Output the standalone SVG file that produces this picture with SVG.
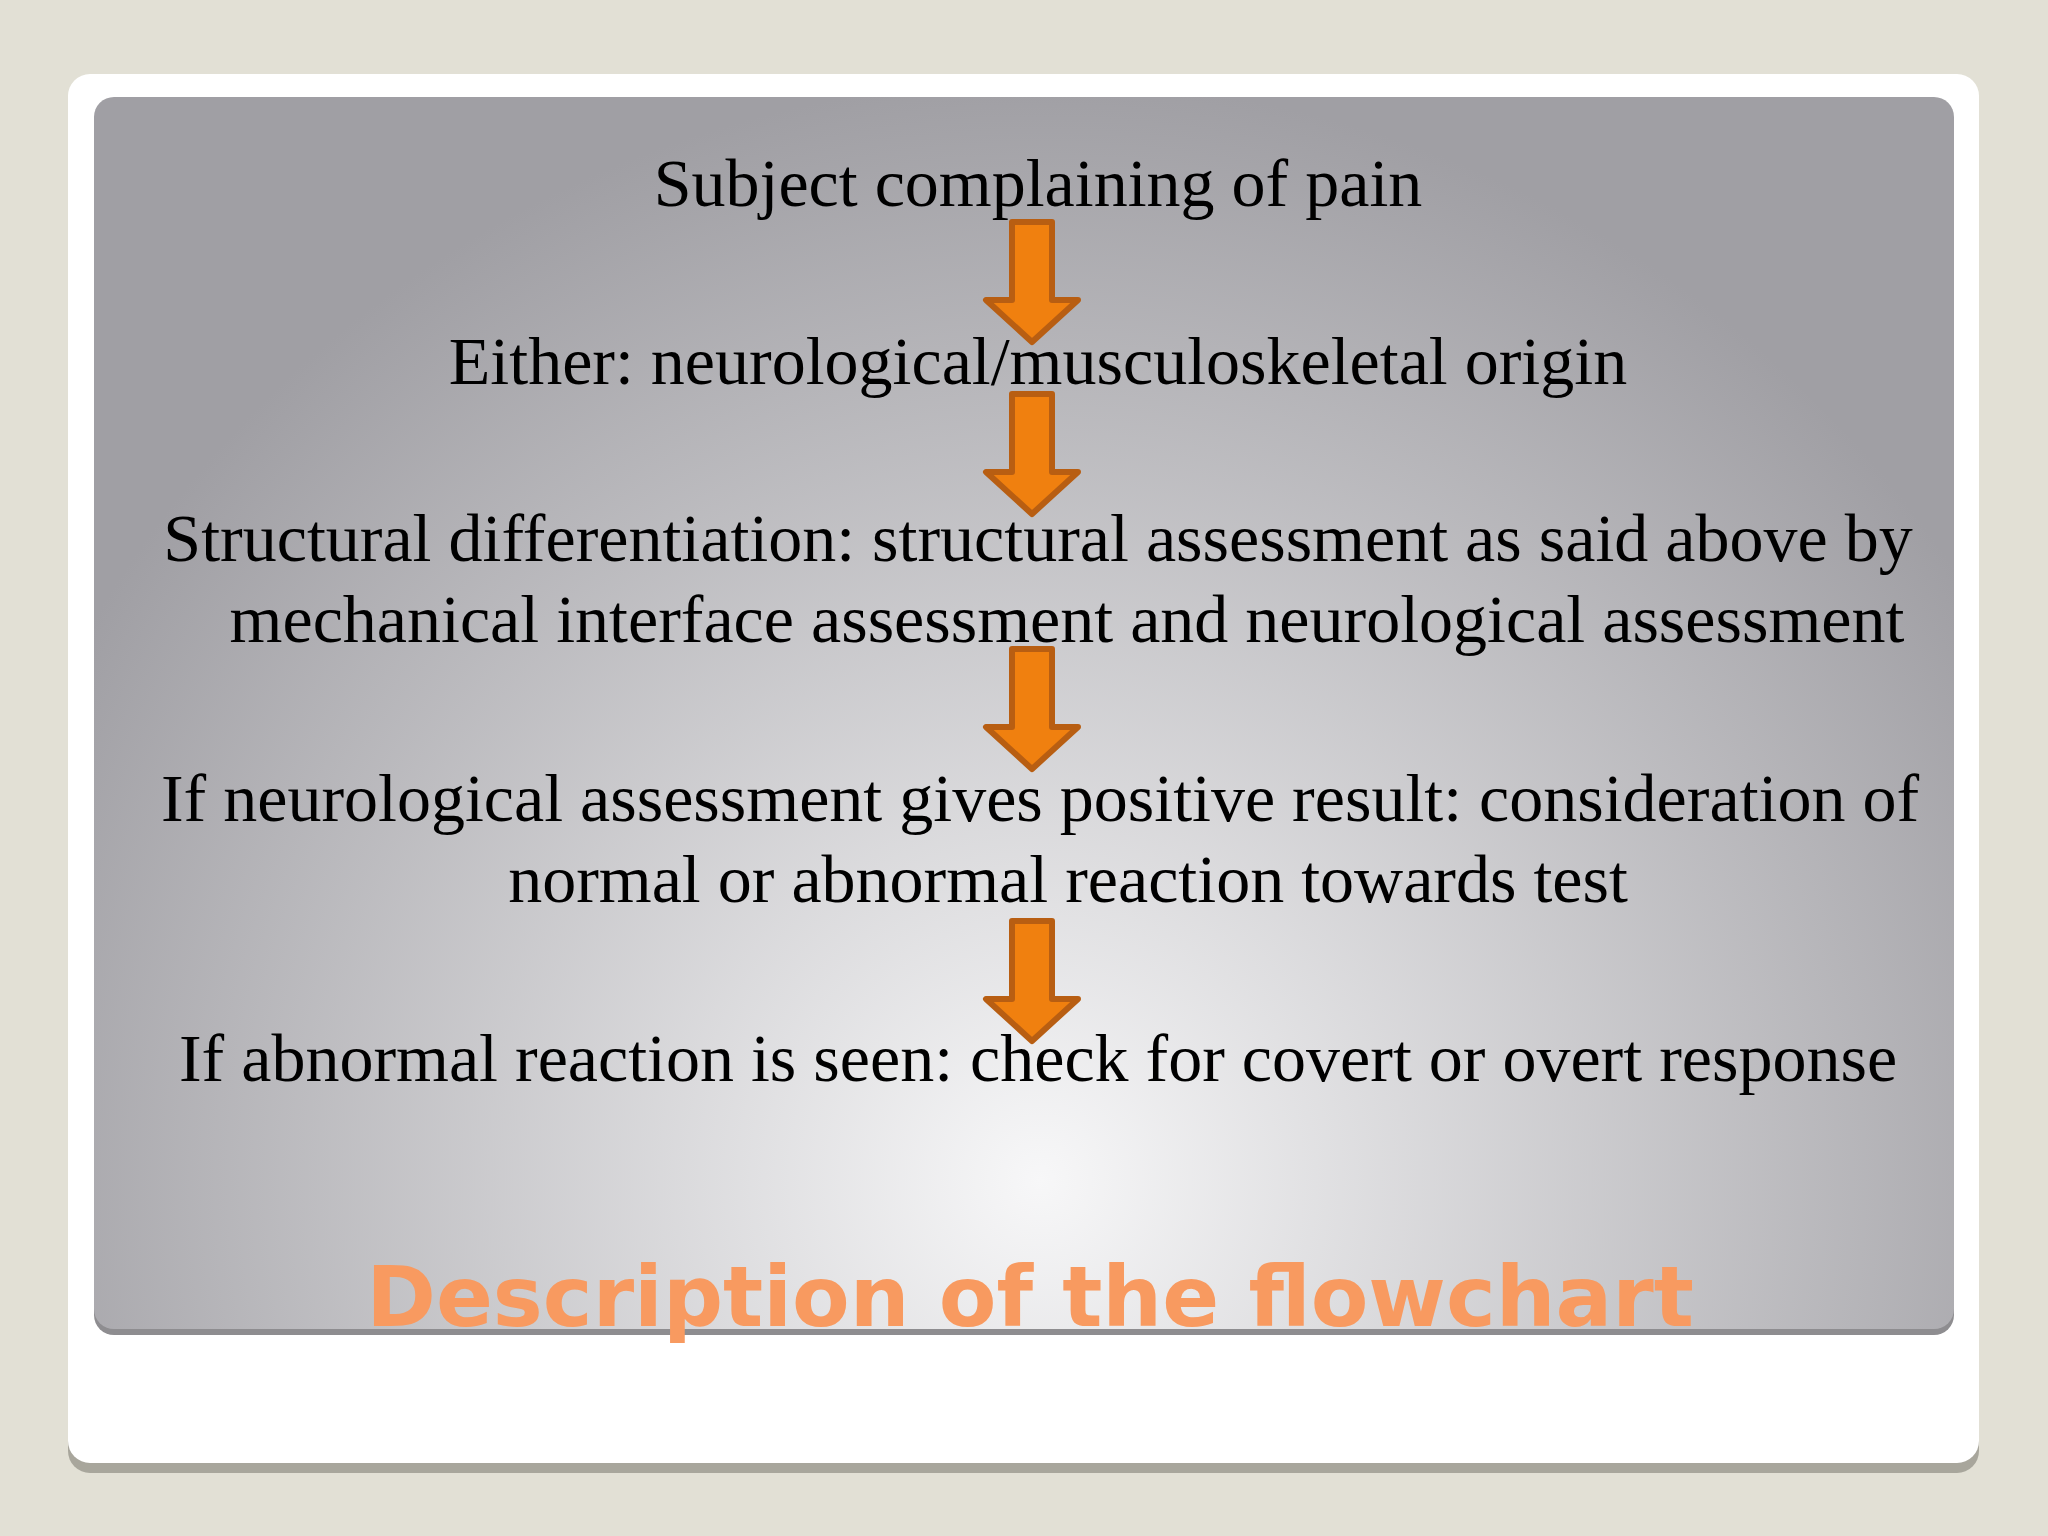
<svg xmlns="http://www.w3.org/2000/svg" width="2048" height="1536" viewBox="0 0 2048 1536">
<defs>
<radialGradient id="g" cx="1040" cy="1180" r="1100" gradientUnits="userSpaceOnUse">
<stop offset="0" stop-color="#f7f7f8"/>
<stop offset="1" stop-color="#a09fa4"/>
</radialGradient>
<path id="arr" d="M-20,0 H20 V78 H46 L0,120 L-46,78 H-20 Z"/>
</defs>
<style>
.t{font-family:"Liberation Serif",serif;font-size:68px;fill:#000;text-anchor:middle}
.a{fill:#f0800f;stroke:#b85e12;stroke-width:6;stroke-linejoin:round}
</style>
<rect width="2048" height="1536" fill="#e2e0d5"/>
<rect x="68" y="82" width="1911" height="1391" rx="22" fill="#a8a69c"/>
<rect x="68" y="74" width="1911" height="1389" rx="22" fill="#fff"/>
<rect x="94" y="103" width="1860" height="1232" rx="20" fill="#8e8d90"/>
<rect x="94" y="97" width="1860" height="1232" rx="20" fill="url(#g)"/>
<g id="n1"><text class="t" x="1038" y="206">Subject complaining of pain</text></g>
<g id="n2"><text class="t" x="1038" y="384">Either: neurological/musculoskeletal origin</text></g>
<g id="n3"><text class="t" x="1038" y="561">Structural differentiation: structural assessment as said above by</text><text class="t" x="1067" y="642">mechanical interface assessment and neurological assessment</text></g>
<g id="n4"><text class="t" x="1040" y="821">If neurological assessment gives positive result: consideration of</text><text class="t" x="1068" y="902">normal or abnormal reaction towards test</text></g>
<g id="n5"><text class="t" x="1038" y="1081">If abnormal reaction is seen: check for covert or overt response</text></g>
<g id="connectors">
<use href="#arr" class="a" transform="translate(1032,222)"/>
<use href="#arr" class="a" transform="translate(1032,394)"/>
<use href="#arr" class="a" transform="translate(1032,649)"/>
<use href="#arr" class="a" transform="translate(1032,921)"/>
</g>
<text x="1030" y="1326" text-anchor="middle" font-family="'DejaVu Sans',sans-serif" font-weight="bold" font-size="84" fill="#f89a60">Description of the flowchart</text>
</svg>
